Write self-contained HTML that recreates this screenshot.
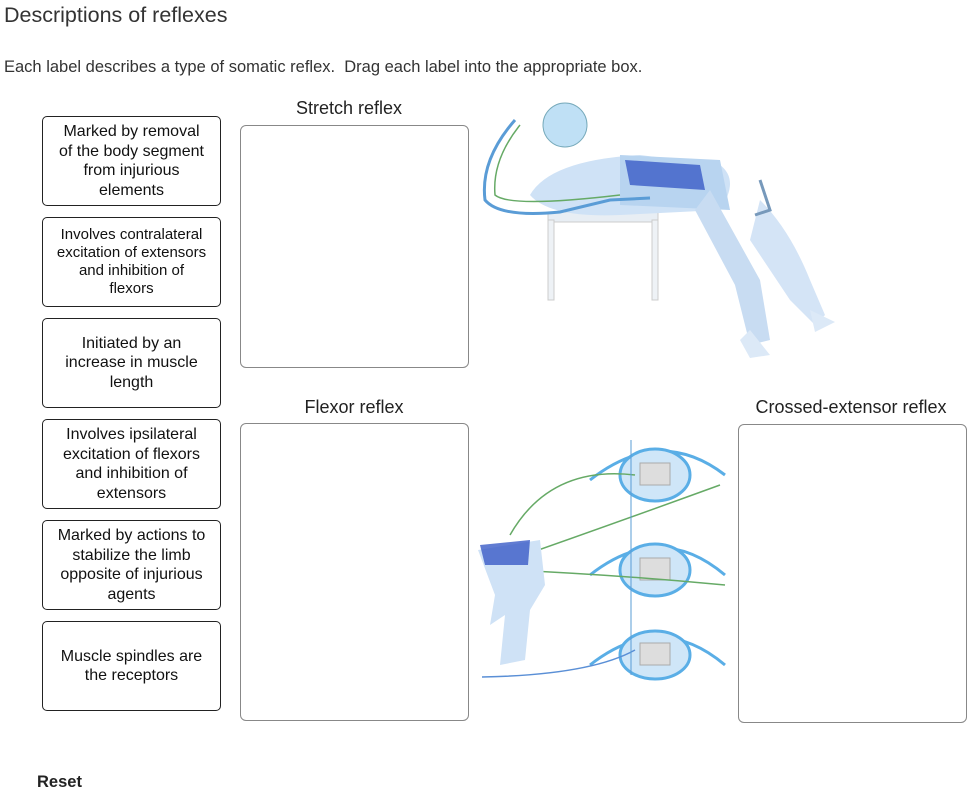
<!DOCTYPE html>
<html><head><meta charset="utf-8"><style>
body{margin:0;width:971px;height:794px;background:#fff;font-family:"Liberation Sans",Arial,sans-serif;color:#222;position:relative;overflow:hidden}
.a{position:absolute}
.lbl{position:absolute;left:42px;width:177px;border:1.5px solid #222;border-radius:5px;display:flex;align-items:center;justify-content:center;text-align:center;font-size:16px;line-height:19.5px;color:#111;background:#fff}
.box{position:absolute;border:1.5px solid #888;border-radius:6px;background:#fff}
.t{position:absolute;font-size:18px;color:#222;text-align:center}
</style></head><body>
<div class="a" style="left:4px;top:3px;font-size:21.5px;color:#333">Descriptions of reflexes</div>
<div class="a" style="left:4px;top:58px;font-size:16.5px;color:#333">Each label describes a type of somatic reflex.&nbsp; Drag each label into the appropriate box.</div>

<div class="lbl" style="top:116px;height:88px">Marked by removal<br>of the body segment<br>from injurious<br>elements</div>
<div class="lbl" style="top:217px;height:88px;font-size:15px;line-height:18px">Involves contralateral<br>excitation of extensors<br>and inhibition of<br>flexors</div>
<div class="lbl" style="top:318px;height:88px">Initiated by an<br>increase in muscle<br>length</div>
<div class="lbl" style="top:419px;height:88px">Involves ipsilateral<br>excitation of flexors<br>and inhibition of<br>extensors</div>
<div class="lbl" style="top:520px;height:88px">Marked by actions to<br>stabilize the limb<br>opposite of injurious<br>agents</div>
<div class="lbl" style="top:621px;height:88px">Muscle spindles are<br>the receptors</div>

<div class="t" style="left:240px;width:218px;top:98px">Stretch reflex</div>
<div class="box" style="left:240px;top:125px;width:227px;height:241px"></div>
<div class="t" style="left:240px;width:228px;top:397px">Flexor reflex</div>
<div class="box" style="left:240px;top:423px;width:227px;height:296px"></div>
<div class="t" style="left:738px;width:226px;top:397px">Crossed-extensor reflex</div>
<div class="box" style="left:738px;top:424px;width:227px;height:297px"></div>

<svg class="a" style="left:470px;top:100px" width="370" height="270">
<rect x="78" y="112" width="110" height="10" fill="#e8eef4" stroke="#ccc"/>
<rect x="78" y="120" width="6" height="80" fill="#eef2f6" stroke="#ccc"/>
<rect x="182" y="120" width="6" height="80" fill="#eef2f6" stroke="#ccc"/>
<path d="M60 95 Q80 60 170 55 L250 65 Q270 80 250 110 L150 115 Q80 118 60 95Z" fill="#cfe2f6"/>
<path d="M150 55 L250 60 L260 110 L150 105Z" fill="#b8d4f0"/>
<path d="M155 60 L230 65 L235 90 L160 85Z" fill="#3a5bc7" opacity=".8"/>
<path d="M240 90 L290 180 L300 240 L280 245 L265 185 L225 110Z" fill="#c8dcf2"/>
<path d="M290 100 Q320 130 340 180 L355 215 L345 225 L320 200 L280 140Z" fill="#d4e4f6"/>
<path d="M280 230 L300 255 L280 258 L270 240Z" fill="#dce9f7"/>
<path d="M340 210 L365 222 L345 232Z" fill="#dce9f7"/>
<circle cx="95" cy="25" r="22" fill="#bfe0f5" stroke="#7ab" />
<path d="M45 20 Q10 60 15 100 Q30 118 90 112 L140 100 L180 98" fill="none" stroke="#5a9cd6" stroke-width="3"/>
<path d="M50 25 Q22 60 25 95 Q40 108 150 95" fill="none" stroke="#6a6" stroke-width="1.5"/>
<path d="M290 80 L300 110 L285 115" fill="none" stroke="#79b" stroke-width="3"/>
</svg>

<svg class="a" style="left:470px;top:435px" width="265" height="250">
<g fill="#cfe6f8" stroke="#5aaee6" stroke-width="3">
<path d="M120 45 Q190 -10 255 40" fill="none"/>
<ellipse cx="185" cy="40" rx="35" ry="26"/>
<path d="M120 140 Q190 85 255 140" fill="none"/>
<ellipse cx="185" cy="135" rx="35" ry="26"/>
<path d="M120 230 Q190 175 255 230" fill="none"/>
<ellipse cx="185" cy="220" rx="35" ry="24"/>
</g>
<g fill="#ddd" stroke="#aaa"><rect x="170" y="28" width="30" height="22"/><rect x="170" y="123" width="30" height="22"/><rect x="170" y="208" width="30" height="22"/></g>
<path d="M40 100 Q80 30 165 40" fill="none" stroke="#6a6" stroke-width="1.5"/>
<path d="M40 125 Q140 90 250 50" fill="none" stroke="#6a6" stroke-width="1.5"/>
<path d="M40 135 Q150 140 255 150" fill="none" stroke="#6a6" stroke-width="1.5"/>
<path d="M12 242 Q120 240 165 215" fill="none" stroke="#5a8fd6" stroke-width="1.5"/>
<line x1="161" y1="5" x2="161" y2="240" stroke="#5a9cd6" stroke-width="1"/>
<path d="M8 115 L70 105 L75 150 L60 175 L55 225 L30 230 L35 180 L20 190 L25 160Z" fill="#cfe2f6"/>
<path d="M10 110 L60 105 L58 130 L15 130Z" fill="#3a5bc7" opacity=".8"/>
</svg>

<div class="a" style="left:37px;top:773px;font-size:16.5px;font-weight:bold;color:#222">Reset</div>
</body></html>
